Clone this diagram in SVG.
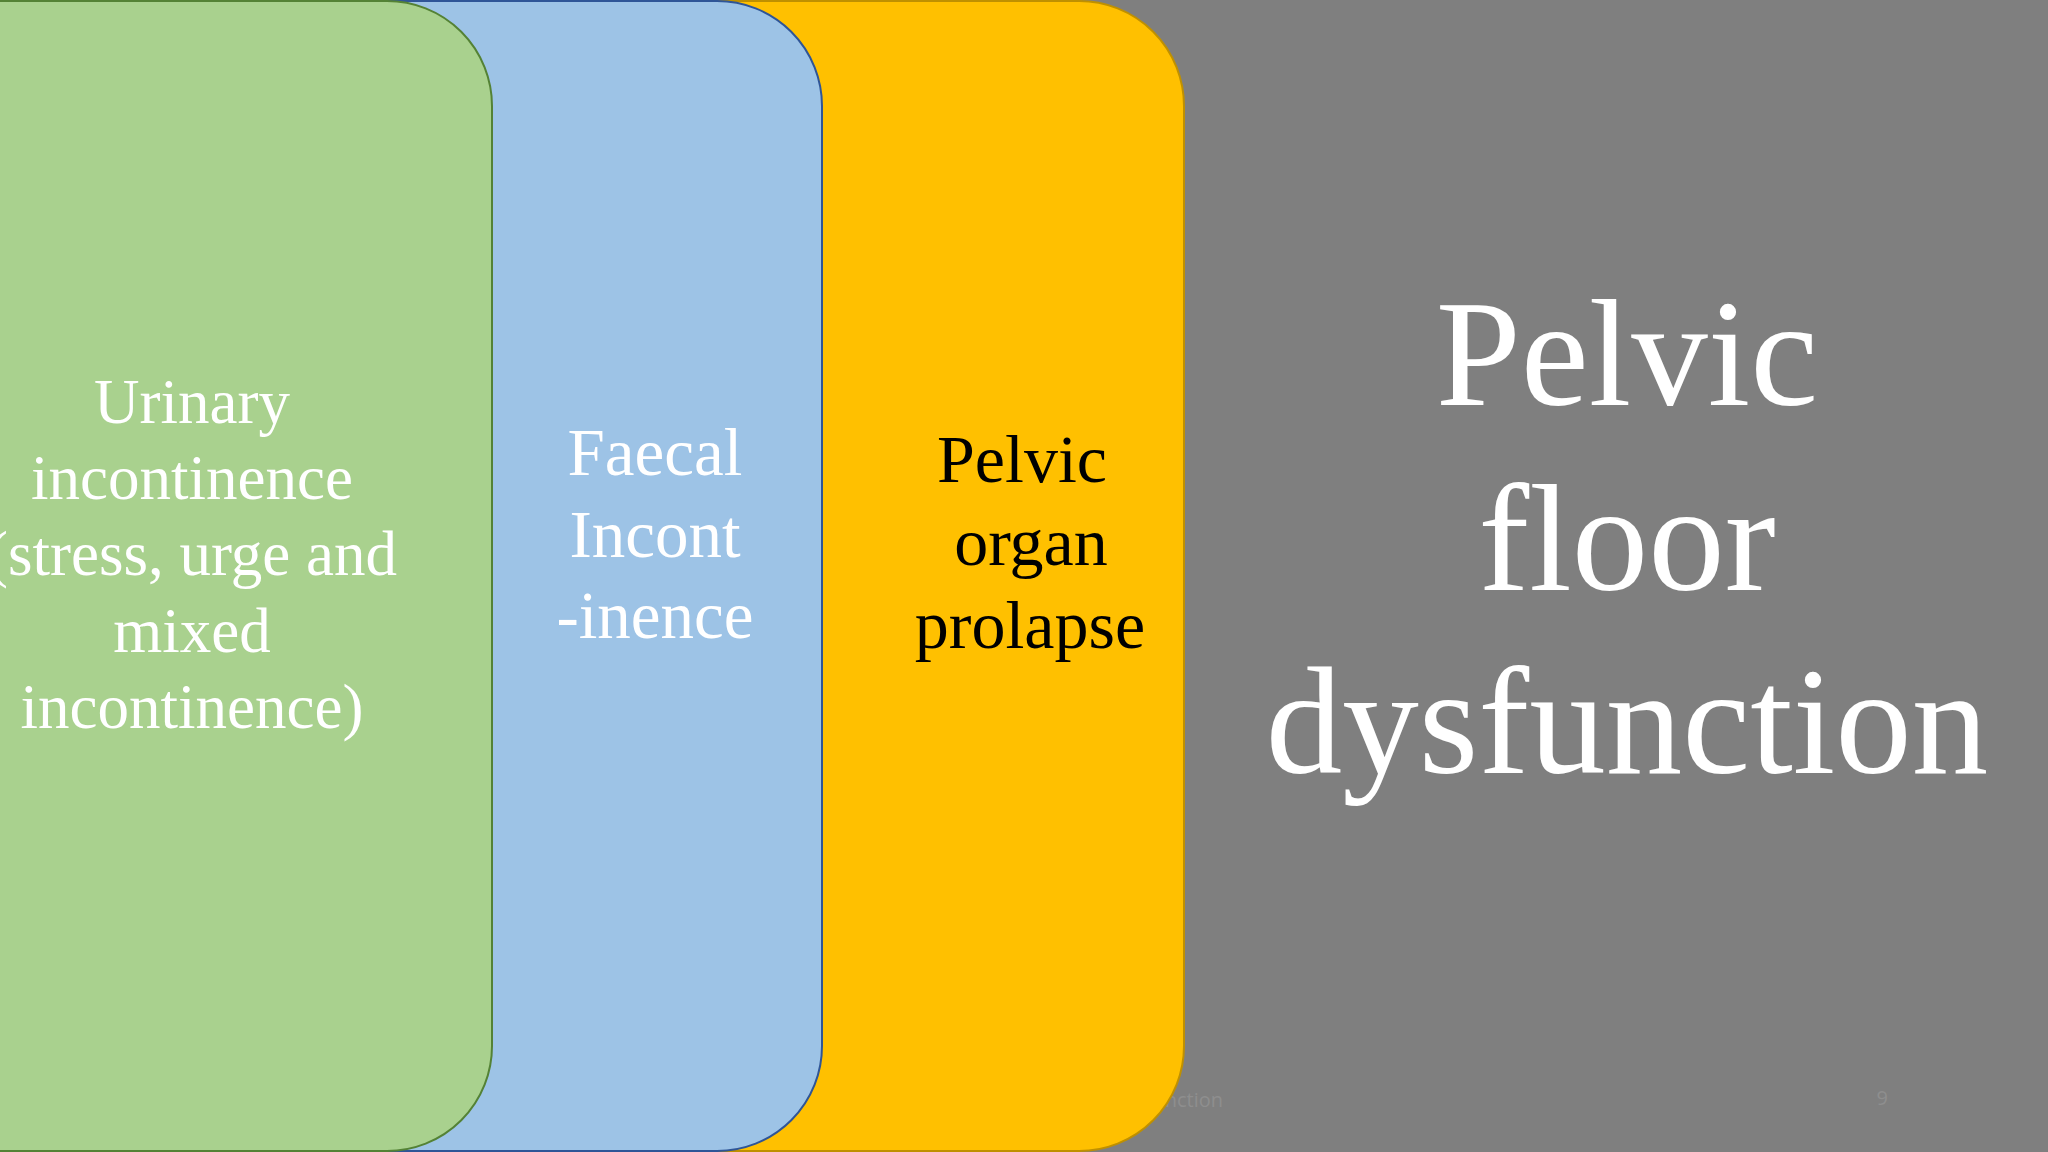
<svg xmlns="http://www.w3.org/2000/svg" width="2048" height="1152" viewBox="0 0 2048 1152">
<style>
.serif{font-family:"Liberation Serif","Times New Roman",serif;text-anchor:middle}
.w{fill:#ffffff}
.k{fill:#000000}
.foot{font-family:"Open Sans","Liberation Sans",sans-serif;font-size:20px;fill:#8e8e8e}
</style>
<rect x="0" y="0" width="2048" height="1152" fill="#7f7f7f"/>
<g id="footer">
<text class="foot" x="1223" y="1107" text-anchor="end">Pelvic floor dysfunction</text>
<text class="foot" x="1888" y="1105" text-anchor="end">9</text>
</g>
<g id="title">
<text class="serif w" font-size="153" x="1627" y="405">Pelvic</text>
<text class="serif w" font-size="153" x="1627" y="590">floor</text>
<text class="serif w" font-size="153" x="1627" y="773">dysfunction</text>
</g>
<g id="node-prolapse">
<rect x="-400" y="1" width="1584" height="1150" rx="105" ry="105" fill="#ffc000" stroke="#bf9000" stroke-width="2"/>
<text class="serif k" font-size="68" x="1022" y="482">Pelvic</text>
<text class="serif k" font-size="68" x="1031" y="565">organ</text>
<text class="serif k" font-size="68" x="1030" y="648">prolapse</text>
</g>
<g id="node-faecal">
<rect x="-400" y="1" width="1222" height="1150" rx="105" ry="105" fill="#9dc3e6" stroke="#2f5597" stroke-width="2"/>
<text class="serif w" font-size="67" x="655" y="475">Faecal</text>
<text class="serif w" font-size="67" x="655" y="557">Incont</text>
<text class="serif w" font-size="67" x="655" y="638">-inence</text>
</g>
<g id="node-urinary">
<rect x="-400" y="1" width="892" height="1150" rx="105" ry="105" fill="#a9d18e" stroke="#548235" stroke-width="2"/>
<text class="serif w" font-size="63" x="192" y="423">Urinary</text>
<text class="serif w" font-size="63" x="192" y="499">incontinence</text>
<text class="serif w" font-size="63" x="192" y="575">(stress, urge and</text>
<text class="serif w" font-size="63" x="192" y="652">mixed</text>
<text class="serif w" font-size="63" x="192" y="728">incontinence)</text>
</g>
<g id="connectors"/>
</svg>
